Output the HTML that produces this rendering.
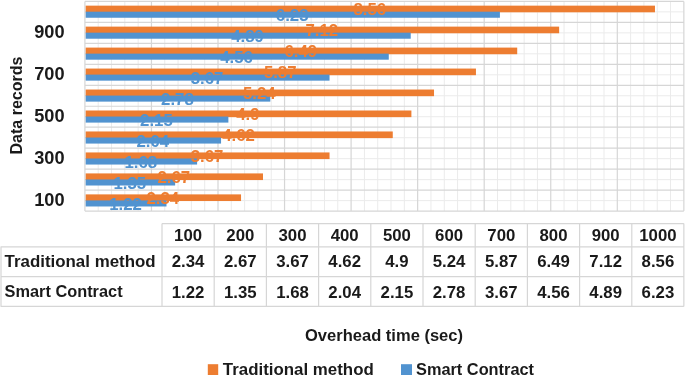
<!DOCTYPE html>
<html lang="en"><head><meta charset="utf-8"><title>Overhead time chart</title>
<style>html,body{margin:0;padding:0;background:#fff;}body{width:685px;height:381px;overflow:hidden;}svg{display:block;}text{font-family:"Liberation Sans",Arial,sans-serif;font-weight:bold;font-size:16.8px;fill:#1a1a1a;}</style></head><body>
<svg width="685" height="381" viewBox="0 0 685 381">
<rect x="0" y="0" width="685" height="381" fill="#fff"/>
<path d="M98.21 1.40V211.10M111.52 1.40V211.10M124.83 1.40V211.10M138.14 1.40V211.10M164.76 1.40V211.10M178.07 1.40V211.10M191.38 1.40V211.10M204.69 1.40V211.10M231.31 1.40V211.10M244.62 1.40V211.10M257.93 1.40V211.10M271.24 1.40V211.10M297.86 1.40V211.10M311.17 1.40V211.10M324.48 1.40V211.10M337.79 1.40V211.10M364.41 1.40V211.10M377.72 1.40V211.10M391.03 1.40V211.10M404.34 1.40V211.10M430.96 1.40V211.10M444.27 1.40V211.10M457.58 1.40V211.10M470.89 1.40V211.10M497.51 1.40V211.10M510.82 1.40V211.10M524.13 1.40V211.10M537.44 1.40V211.10M564.06 1.40V211.10M577.37 1.40V211.10M590.68 1.40V211.10M603.99 1.40V211.10M630.61 1.40V211.10M643.92 1.40V211.10M657.23 1.40V211.10M670.54 1.40V211.10M84.90 11.88H683.85M84.90 32.85H683.85M84.90 53.82H683.85M84.90 74.80H683.85M84.90 95.77H683.85M84.90 116.73H683.85M84.90 137.71H683.85M84.90 158.67H683.85M84.90 179.65H683.85M84.90 200.61H683.85" stroke="#EBEBEB" stroke-width="1" fill="none"/>
<path d="M84.90 1.40V211.10M151.45 1.40V211.10M218.00 1.40V211.10M284.55 1.40V211.10M351.10 1.40V211.10M417.65 1.40V211.10M484.20 1.40V211.10M550.75 1.40V211.10M617.30 1.40V211.10M683.85 1.40V211.10M84.90 1.40H683.85M84.90 22.37H683.85M84.90 43.34H683.85M84.90 64.31H683.85M84.90 85.28H683.85M84.90 106.25H683.85M84.90 127.22H683.85M84.90 148.19H683.85M84.90 169.16H683.85M84.90 190.13H683.85M84.90 211.10H683.85M683.85 1.40V211.10" stroke="#D6D6D6" stroke-width="1.2" fill="none"/>
<rect x="85.70" y="194.38" width="155.33" height="6.65" fill="#ED7D31"/>
<rect x="85.70" y="200.43" width="80.79" height="6.05" fill="#5193D0"/>
<rect x="85.70" y="173.41" width="177.29" height="6.65" fill="#ED7D31"/>
<rect x="85.70" y="179.46" width="89.44" height="6.05" fill="#5193D0"/>
<rect x="85.70" y="152.44" width="243.84" height="6.65" fill="#ED7D31"/>
<rect x="85.70" y="158.49" width="111.40" height="6.05" fill="#5193D0"/>
<rect x="85.70" y="131.47" width="307.06" height="6.65" fill="#ED7D31"/>
<rect x="85.70" y="137.52" width="135.36" height="6.05" fill="#5193D0"/>
<rect x="85.70" y="110.50" width="325.70" height="6.65" fill="#ED7D31"/>
<rect x="85.70" y="116.55" width="142.68" height="6.05" fill="#5193D0"/>
<rect x="85.70" y="89.53" width="348.32" height="6.65" fill="#ED7D31"/>
<rect x="85.70" y="95.58" width="184.61" height="6.05" fill="#5193D0"/>
<rect x="85.70" y="68.56" width="390.25" height="6.65" fill="#ED7D31"/>
<rect x="85.70" y="74.61" width="243.84" height="6.05" fill="#5193D0"/>
<rect x="85.70" y="47.59" width="431.51" height="6.65" fill="#ED7D31"/>
<rect x="85.70" y="53.64" width="303.07" height="6.05" fill="#5193D0"/>
<rect x="85.70" y="26.62" width="473.44" height="6.65" fill="#ED7D31"/>
<rect x="85.70" y="32.67" width="325.03" height="6.05" fill="#5193D0"/>
<rect x="85.70" y="5.65" width="569.27" height="6.65" fill="#ED7D31"/>
<rect x="85.70" y="11.70" width="414.21" height="6.05" fill="#5193D0"/>
<text x="162.76" y="204.10" text-anchor="middle" style="fill:#ED7D31">2.34</text>
<text x="125.50" y="210.16" text-anchor="middle" style="fill:#5193D0">1.22</text>
<text x="173.74" y="183.13" text-anchor="middle" style="fill:#ED7D31">2.67</text>
<text x="129.82" y="189.19" text-anchor="middle" style="fill:#5193D0">1.35</text>
<text x="207.02" y="162.16" text-anchor="middle" style="fill:#ED7D31">3.67</text>
<text x="140.80" y="168.22" text-anchor="middle" style="fill:#5193D0">1.68</text>
<text x="238.63" y="141.19" text-anchor="middle" style="fill:#ED7D31">4.62</text>
<text x="152.78" y="147.25" text-anchor="middle" style="fill:#5193D0">2.04</text>
<text x="247.95" y="120.23" text-anchor="middle" style="fill:#ED7D31">4.9</text>
<text x="156.44" y="126.28" text-anchor="middle" style="fill:#5193D0">2.15</text>
<text x="259.26" y="99.26" text-anchor="middle" style="fill:#ED7D31">5.24</text>
<text x="177.40" y="105.31" text-anchor="middle" style="fill:#5193D0">2.78</text>
<text x="280.22" y="78.29" text-anchor="middle" style="fill:#ED7D31">5.87</text>
<text x="207.02" y="84.34" text-anchor="middle" style="fill:#5193D0">3.67</text>
<text x="300.85" y="57.31" text-anchor="middle" style="fill:#ED7D31">6.49</text>
<text x="236.63" y="63.36" text-anchor="middle" style="fill:#5193D0">4.56</text>
<text x="321.82" y="36.34" text-anchor="middle" style="fill:#ED7D31">7.12</text>
<text x="247.61" y="42.39" text-anchor="middle" style="fill:#5193D0">4.89</text>
<text x="369.73" y="15.38" text-anchor="middle" style="fill:#ED7D31">8.56</text>
<text x="292.20" y="21.42" text-anchor="middle" style="fill:#5193D0">6.23</text>
<text x="64.6" y="206.11" text-anchor="end" style="font-size:18.2px">100</text>
<text x="64.6" y="164.17" text-anchor="end" style="font-size:18.2px">300</text>
<text x="64.6" y="122.23" text-anchor="end" style="font-size:18.2px">500</text>
<text x="64.6" y="80.30" text-anchor="end" style="font-size:18.2px">700</text>
<text x="64.6" y="38.35" text-anchor="end" style="font-size:18.2px">900</text>
<text transform="translate(21.8 105.5) rotate(-90)" text-anchor="middle" textLength="98" lengthAdjust="spacingAndGlyphs">Data records</text>
<path d="M162.00 223.60H683.85M0.60 246.80H683.85M0.60 276.70H683.85M0.60 306.40H683.85M1.0 246.80V306.40M162.00 223.60V306.40M214.20 223.60V306.40M266.40 223.60V306.40M318.60 223.60V306.40M370.80 223.60V306.40M423.00 223.60V306.40M475.20 223.60V306.40M527.40 223.60V306.40M579.60 223.60V306.40M631.80 223.60V306.40M683.85 223.60V306.40" stroke="#D6D6D6" stroke-width="1.2" fill="none"/>
<text x="188.10" y="241.2" text-anchor="middle">100</text>
<text x="188.10" y="267.4" text-anchor="middle">2.34</text>
<text x="188.10" y="297.6" text-anchor="middle">1.22</text>
<text x="240.30" y="241.2" text-anchor="middle">200</text>
<text x="240.30" y="267.4" text-anchor="middle">2.67</text>
<text x="240.30" y="297.6" text-anchor="middle">1.35</text>
<text x="292.50" y="241.2" text-anchor="middle">300</text>
<text x="292.50" y="267.4" text-anchor="middle">3.67</text>
<text x="292.50" y="297.6" text-anchor="middle">1.68</text>
<text x="344.70" y="241.2" text-anchor="middle">400</text>
<text x="344.70" y="267.4" text-anchor="middle">4.62</text>
<text x="344.70" y="297.6" text-anchor="middle">2.04</text>
<text x="396.90" y="241.2" text-anchor="middle">500</text>
<text x="396.90" y="267.4" text-anchor="middle">4.9</text>
<text x="396.90" y="297.6" text-anchor="middle">2.15</text>
<text x="449.10" y="241.2" text-anchor="middle">600</text>
<text x="449.10" y="267.4" text-anchor="middle">5.24</text>
<text x="449.10" y="297.6" text-anchor="middle">2.78</text>
<text x="501.30" y="241.2" text-anchor="middle">700</text>
<text x="501.30" y="267.4" text-anchor="middle">5.87</text>
<text x="501.30" y="297.6" text-anchor="middle">3.67</text>
<text x="553.50" y="241.2" text-anchor="middle">800</text>
<text x="553.50" y="267.4" text-anchor="middle">6.49</text>
<text x="553.50" y="297.6" text-anchor="middle">4.56</text>
<text x="605.70" y="241.2" text-anchor="middle">900</text>
<text x="605.70" y="267.4" text-anchor="middle">7.12</text>
<text x="605.70" y="297.6" text-anchor="middle">4.89</text>
<text x="657.90" y="241.2" text-anchor="middle">1000</text>
<text x="657.90" y="267.4" text-anchor="middle">8.56</text>
<text x="657.90" y="297.6" text-anchor="middle">6.23</text>
<text x="4.6" y="267.2" textLength="151" lengthAdjust="spacingAndGlyphs">Traditional method</text>
<text x="4.6" y="296.6" textLength="118" lengthAdjust="spacingAndGlyphs">Smart Contract</text>
<text x="305" y="340.5" textLength="158" lengthAdjust="spacingAndGlyphs">Overhead time (sec)</text>
<rect x="207.8" y="364.2" width="10.4" height="10.8" fill="#ED7D31"/>
<text x="222.8" y="374.6" textLength="151" lengthAdjust="spacingAndGlyphs">Traditional method</text>
<rect x="401" y="364.2" width="11" height="10.8" fill="#5193D0"/>
<text x="416" y="374.6" textLength="118" lengthAdjust="spacingAndGlyphs">Smart Contract</text>
</svg></body></html>
